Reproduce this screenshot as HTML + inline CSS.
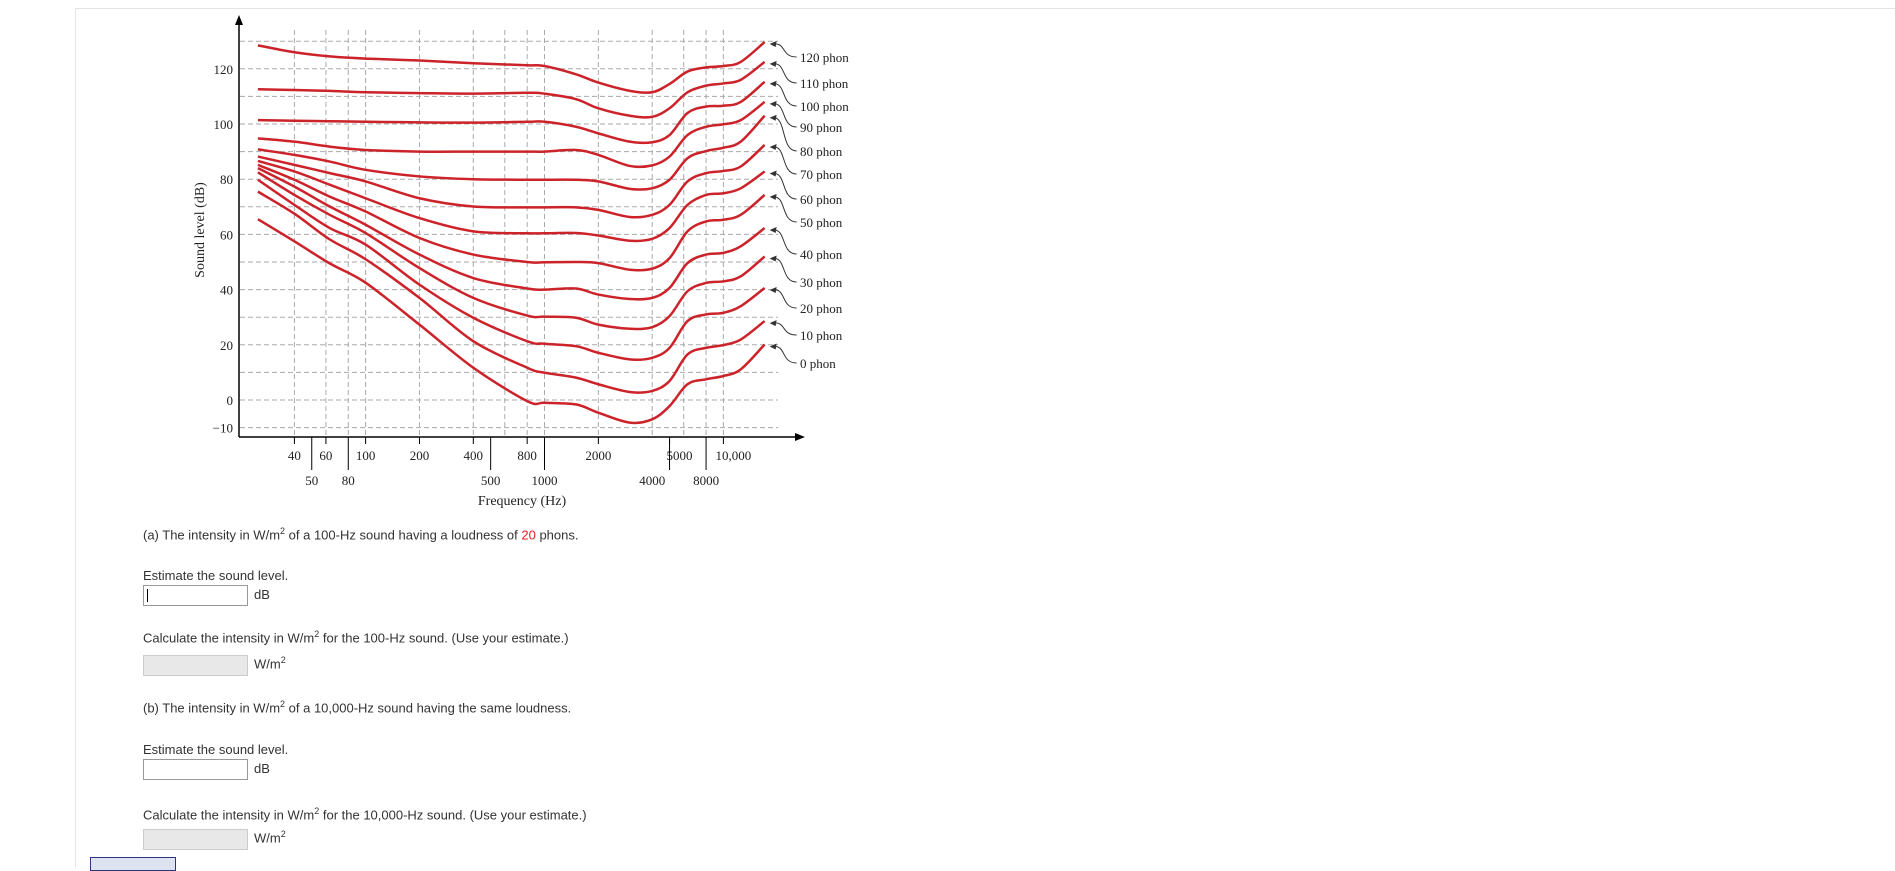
<!DOCTYPE html>
<html><head><meta charset="utf-8">
<style>
body{margin:0;width:1895px;height:867px;background:#fff;position:relative;overflow:hidden;font-family:"Liberation Sans",Verdana,sans-serif;}
.t{position:absolute;font-size:13px;color:#333;white-space:nowrap;}
.box{position:absolute;width:103px;height:19px;border:1px solid #999;background:#fff;}
.gray{background:#e8e8e8;border-color:#ccc;}
sup{font-size:9px;}
</style></head><body>
<div style="position:absolute;left:75px;top:8px;width:1820px;height:1px;background:#e4e4e4"></div>
<div style="position:absolute;left:75px;top:8px;width:1px;height:859px;background:#e4e4e4"></div>

<svg id="chart" width="1895" height="520" style="position:absolute;left:0;top:0" font-family="Liberation Serif, serif"></svg>

<div class="t" style="left:143px;top:526px">(a) The intensity in W/m<sup>2</sup> of a 100-Hz sound having a loudness of <span style="color:#d22">20</span> phons.</div>
<div class="t" style="left:143px;top:568px">Estimate the sound level.</div>
<div class="box" style="left:143px;top:585px"><div style="position:absolute;left:3px;top:3px;width:1px;height:13px;background:#000"></div></div>
<div class="t" style="left:254px;top:587px">dB</div>
<div class="t" style="left:143px;top:629px">Calculate the intensity in W/m<sup>2</sup> for the 100-Hz sound. (Use your estimate.)</div>
<div class="box gray" style="left:143px;top:655px"></div>
<div class="t" style="left:254px;top:655px">W/m<sup>2</sup></div>
<div class="t" style="left:143px;top:699px">(b) The intensity in W/m<sup>2</sup> of a 10,000-Hz sound having the same loudness.</div>
<div class="t" style="left:143px;top:742px">Estimate the sound level.</div>
<div class="box" style="left:143px;top:759px"></div>
<div class="t" style="left:254px;top:761px">dB</div>
<div class="t" style="left:143px;top:806px">Calculate the intensity in W/m<sup>2</sup> for the 10,000-Hz sound. (Use your estimate.)</div>
<div class="box gray" style="left:143px;top:829px"></div>
<div class="t" style="left:254px;top:829px">W/m<sup>2</sup></div>
<div style="position:absolute;left:90px;top:857px;width:84px;height:12px;background:#dde3f0;border:1px solid #33337a"></div>

<script>
const freqs=[25,40,63,100,200,400,800,1000,1500,2000,3000,4000,5000,6300,8000,10000,12500,17000];
const phons=[120,110,100,90,80,70,60,50,40,30,20,10,0];
const c120=[128.5,126,124.5,123.7,123,122,121.3,121,118,115,112,111.5,114.5,119,120.5,121,122.5,129.7];
const c110=[112.6,112.3,112,111.5,111.2,111,111.3,111,109,105.7,103,102.6,105.7,111.5,113.9,114.7,116,122.5];
const c100=[101.4,101.2,101,100.8,100.6,100.5,100.8,100.8,99,96.6,93.6,93.4,96,104,106.3,106.6,108,115.3];
const c90=[94.8,93.6,91.8,90.6,90,90,90,90,90.6,88.8,84.8,85,88.2,96,99,99.9,101.4,108];
const c80=[90.8,88.8,86.4,83.4,81,80,79.8,79.8,79.8,79.2,76.5,76.7,79.8,87.6,90.2,91.4,93.6,103];
const c70=[88.2,85.2,82.2,79.2,73.1,70.1,69.8,69.8,69.8,68.9,66.3,67.1,70.7,79.2,82.2,83,84.6,92.4];
const c60=[86.6,82.8,78,73.1,65.9,61.1,60.4,60.4,60.5,59.6,57.7,58.4,62.3,70.7,74.3,74.9,76.7,82.8];
const c50=[85.2,79.8,73.7,68.3,58.7,52.7,50,49.9,50,49.6,47.2,47.6,51.4,61.1,64.7,65.3,67.1,74.3];
const c40=[84,77.3,70.1,63.5,52.7,44.2,40.4,40,40.4,38.2,36.6,37,40.6,49.6,52.7,53.3,55.7,62.3];
const c30=[82.5,74.3,67.1,60.5,47.8,37,30.6,30.2,29.8,27.3,25.8,26.4,30.4,39.4,42.4,43,44.8,52];
const c20=[79.8,70.7,62.3,56.3,41.8,29.8,21.3,20.4,19.5,17.1,14.7,15.3,18.9,28.6,31,31.6,34,40.6];
const c10=[75.5,67.5,58.2,51,37,21.3,11.7,9.9,8.1,5.7,2.9,3.3,6.9,16.5,18.9,19.9,21.9,28.6];
const c0=[65.5,57.5,49.5,42.5,27.3,11.7,-0.4,-1,-1.6,-4.6,-8.2,-7,-2.2,5.7,7.5,8.7,11.1,20.1];
const curves=[c120,c110,c100,c90,c80,c70,c60,c50,c40,c30,c20,c10,c0];
const labelY=[57,83,106,127,151,174,199,222,254,282,308,335,363];
const yTicks=[120,100,80,60,40,20,0,-10];
const gridFreqs=[40,60,80,100,200,400,600,800,1000,2000,4000,6000,8000,10000];
const xLab1=["40","60","100","200","400","800","2000","5000","10,000"];
const xLab1F=[40,60,100,200,400,800,2000,5000,10000];
const xLab2=["50","80","500","1000","4000","8000"];
const xLab2F=[50,80,500,1000,4000,8000];
const tallTickF=[50,80,500,1000,5000,8000];

const X=f=>365.6+178.9*Math.log10(f/100);
const Y=v=>400-v*2.76;
const svg=document.getElementById('chart');
const NS='http://www.w3.org/2000/svg';
function mk(tag,attrs,parent){const e=document.createElementNS(NS,tag);for(const k in attrs)e.setAttribute(k,attrs[k]);(parent||svg).appendChild(e);return e;}

for(let v=-10;v<=130;v+=10){
  const l=mk('line',{x1:240,x2:778,y1:Y(v),y2:Y(v),stroke:'#aaa','stroke-width':1,'stroke-dasharray':'5,3'});
  
  
}
gridFreqs.forEach(f=>{
  const l=mk('line',{x1:X(f),x2:X(f),y1:30,y2:437,stroke:'#aaa','stroke-width':1,'stroke-dasharray':'5,3'});
  
  
});
const ya=mk('line',{x1:239,x2:239,y1:22,y2:437,stroke:'#000','stroke-width':1.5});


mk('path',{d:'M239,15 L235,25 L243,25 Z',fill:'#000'});
const xa=mk('line',{x1:239,x2:798,y1:437,y2:437,stroke:'#000','stroke-width':1.5});


mk('path',{d:'M805,437 L795,433 L795,441 Z',fill:'#000'});
yTicks.forEach(v=>{
  const t=mk('text',{x:233,y:Y(v)+5,'text-anchor':'end','font-size':13,fill:'#222'});
  t.textContent=v<0?'\u2212'+(-v):v;
  
  
});
xLab1.forEach((s,i)=>{
  const t=mk('text',{x:X(xLab1F[i])+(i>=7?10:0),y:460,'text-anchor':'middle','font-size':13,fill:'#222'});
  t.textContent=s;
  
  
  mk('line',{x1:X(xLab1F[i]),x2:X(xLab1F[i]),y1:437,y2:444,stroke:'#000'});
});
xLab2.forEach((s,i)=>{
  const t=mk('text',{x:X(xLab2F[i]),y:485,'text-anchor':'middle','font-size':13,fill:'#222'});
  t.textContent=s;
  
  
});
tallTickF.forEach(f=>{
  mk('line',{x1:X(f),x2:X(f),y1:437,y2:470,stroke:'#000'});
});
const xt=mk('text',{x:522,y:505,'text-anchor':'middle','font-size':14,fill:'#222'});
xt.textContent='Frequency (Hz)';


const yt=mk('text',{x:0,y:0,'text-anchor':'middle','font-size':14,fill:'#222',transform:'translate(204,230) rotate(-90)'});
yt.textContent='Sound level (dB)';



function smooth(pts){
  let d='M'+pts[0][0]+','+pts[0][1];
  for(let i=0;i<pts.length-1;i++){
    const p0=pts[Math.max(i-1,0)],p1=pts[i],p2=pts[i+1],p3=pts[Math.min(i+2,pts.length-1)];
    const c1=[p1[0]+(p2[0]-p0[0])/6,p1[1]+(p2[1]-p0[1])/6];
    const c2=[p2[0]-(p3[0]-p1[0])/6,p2[1]-(p3[1]-p1[1])/6];
    d+=' C'+c1[0]+','+c1[1]+' '+c2[0]+','+c2[1]+' '+p2[0]+','+p2[1];
  }
  return d;
}
curves.forEach((c,i)=>{
  const pts=freqs.map((f,j)=>[X(f),Y(c[j])]);
  const p=mk('path',{d:smooth(pts),fill:'none',stroke:'#cc2229','stroke-width':2.5});
  
  
  const e=pts[pts.length-1];
  const ly=labelY[i];
  const ld=mk('path',{d:`M${e[0]+8},${e[1]+2} C${e[0]+22},${e[1]} ${e[0]+16},${ly} ${e[0]+32},${ly}`,fill:'none',stroke:'#333','stroke-width':1});
  
  
  mk('path',{d:`M${e[0]+5},${e[1]+2} L${e[0]+12},${e[1]-1} L${e[0]+11},${e[1]+5} Z`,fill:'#333'});
  const t=mk('text',{x:800,y:ly+5,'font-size':13,fill:'#222'});
  t.textContent=phons[i]+' phon';
  
  
});
</script>
</body></html>
